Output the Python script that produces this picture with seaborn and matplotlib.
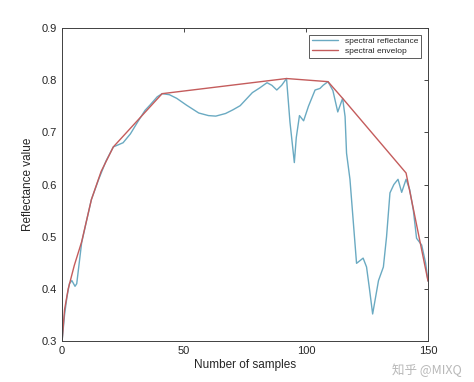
import matplotlib
matplotlib.use("Agg")
import matplotlib.pyplot as plt
import seaborn as sns
import pandas as pd

# Spectral reflectance curve
refl_x = [0, 1, 2, 3, 4, 5.3, 6, 8, 10, 12, 15, 18, 21, 23, 25, 28, 31, 34, 36, 39, 41,
          44, 47, 51, 56, 60, 63, 67, 70, 73, 76, 78, 81, 84, 86, 88, 90, 92,
          93.4, 95.2, 96, 97.3, 99, 101, 103.7, 105.7, 107, 109, 111, 113, 115, 116, 116.6,
          118, 120.7, 123.4, 124.8, 126, 127.3, 129.7, 131.7, 133, 134.4, 136, 137.7, 139.2,
          141, 142.5, 144, 145.3, 147.4, 149, 150]
refl_y = [0.30, 0.35, 0.385, 0.41, 0.416, 0.405, 0.41, 0.488, 0.53, 0.571, 0.61, 0.645, 0.672,
          0.676, 0.68, 0.697, 0.72, 0.742, 0.752, 0.768, 0.774,
          0.772, 0.765, 0.752, 0.737, 0.732, 0.731, 0.736, 0.743, 0.751, 0.766, 0.776, 0.785,
          0.795, 0.79, 0.781, 0.79, 0.803,
          0.72, 0.642, 0.69, 0.732, 0.722, 0.75, 0.781, 0.784, 0.79, 0.797, 0.78, 0.739, 0.765, 0.73, 0.66,
          0.61, 0.449, 0.459, 0.442, 0.40, 0.352, 0.416, 0.442, 0.50, 0.584, 0.60, 0.61, 0.585,
          0.61, 0.59, 0.55, 0.497, 0.484, 0.45, 0.415]

# Upper envelope
env_x = [0, 1, 2.5, 5, 8, 12, 16, 21, 41, 92, 109, 115, 141, 150]
env_y = [0.30, 0.36, 0.40, 0.445, 0.49, 0.571, 0.625, 0.672, 0.774, 0.803, 0.797, 0.765, 0.622, 0.415]

df = pd.concat([
    pd.DataFrame({"x": refl_x, "y": refl_y, "series": "spectral reflectance"}),
    pd.DataFrame({"x": env_x, "y": env_y, "series": "spectral envelop"}),
])

sns.set_style("white")
plt.rcParams["font.family"] = ["Liberation Sans", "DejaVu Sans"]

fig = plt.figure(figsize=(4.74, 3.82), dpi=100)
ax = fig.add_axes([0.131, 0.107, 0.772, 0.820])

sns.lineplot(data=df, x="x", y="y", hue="series", sort=False, estimator=None,
             palette={"spectral reflectance": "#6aaac2", "spectral envelop": "#c45c5c"},
             linewidth=1.0, ax=ax)

ax.set_xlim(0, 150)
ax.set_ylim(0.3, 0.9)
ax.set_xticks([0, 50, 100, 150])
ax.set_yticks([0.3, 0.4, 0.5, 0.6, 0.7, 0.8, 0.9])
ax.set_yticklabels(["0.3", "0.4", "0.5", "0.6", "0.7", "0.8", "0.9"])
ax.set_xlabel("Number of samples", fontsize=8.5, color="#262626", labelpad=2)
ax.set_ylabel("Reflectance value", fontsize=8.5, color="#262626", labelpad=6)
ax.tick_params(direction="in", length=3, width=0.6, colors="#262626", labelsize=8,
               top=True, right=True, labeltop=False, labelright=False)
for s in ax.spines.values():
    s.set_color("#404040")
    s.set_linewidth(0.7)

leg = ax.legend(loc="upper right", fontsize=6, frameon=True, fancybox=False,
                edgecolor="#404040", framealpha=1, handlelength=3.2,
                borderaxespad=0.8, labelspacing=0.25, borderpad=0.35)
leg.get_frame().set_linewidth(0.6)

fig.text(0.975, 0.022, "知乎 @MIXQ", fontsize=9, color="#b8b8b8", ha="right",
         family=["Noto Sans CJK SC", "DejaVu Sans"])

fig.savefig("out.png", dpi=100, facecolor="white")
